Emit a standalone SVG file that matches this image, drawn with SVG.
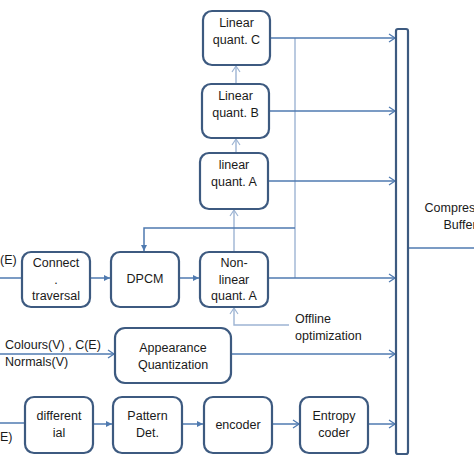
<svg xmlns="http://www.w3.org/2000/svg" width="474" height="474" viewBox="0 0 474 474">
<defs>
<marker id="ah" markerWidth="10" markerHeight="10" refX="7" refY="5" orient="auto" markerUnits="userSpaceOnUse">
<path d="M1,1 L7,5 L1,9" fill="none" stroke="#4f7ab0" stroke-width="1.3"/>
</marker>
<marker id="ahl" markerWidth="10" markerHeight="10" refX="7" refY="5" orient="auto" markerUnits="userSpaceOnUse">
<path d="M1,1 L7,5 L1,9" fill="none" stroke="#9db4d3" stroke-width="1.2"/>
</marker>
<marker id="tri" markerWidth="8" markerHeight="8" refX="6" refY="4" orient="auto" markerUnits="userSpaceOnUse">
<path d="M0,1 L6,4 L0,7 Z" fill="#4f7ab0"/>
</marker>
</defs>
<style>
.box{fill:#fff;stroke:#3d5a80;stroke-width:2.2}
.t{font-family:"Liberation Sans",Arial,sans-serif;font-size:12.5px;fill:#1a1a1a;text-anchor:middle}
.tl{font-family:"Liberation Sans",Arial,sans-serif;font-size:12.5px;fill:#1a1a1a}
.c{fill:none;stroke:#4f7ab0;stroke-width:1.5}
.cl{fill:none;stroke:#9db4d3;stroke-width:1.4}
</style>
<rect width="474" height="474" fill="#fff"/>
<g id="connectors">
<!-- quant chain -->
<line class="cl" x1="236" y1="84" x2="236" y2="66" marker-end="url(#ahl)"/>
<line class="cl" x1="236" y1="153" x2="236" y2="139" marker-end="url(#ahl)"/>
<line class="cl" x1="234" y1="252" x2="234" y2="210" marker-end="url(#ahl)"/>
<line class="cl" x1="295" y1="38" x2="295" y2="278"/>
<!-- to buffer -->
<line class="c" x1="270" y1="38" x2="395" y2="38" marker-end="url(#ah)"/>
<line class="c" x1="269" y1="111" x2="395" y2="111" marker-end="url(#ah)"/>
<line class="c" x1="268" y1="181" x2="395" y2="181" marker-end="url(#ah)"/>
<line class="c" x1="268" y1="278" x2="395" y2="278" marker-end="url(#ah)"/>
<line class="c" x1="231" y1="354" x2="395" y2="354" marker-end="url(#ah)"/>
<line class="c" x1="368" y1="424" x2="395" y2="424" marker-end="url(#ah)"/>
<!-- feedback -->
<polyline class="c" points="295,228 144,228 144,251" marker-end="url(#tri)"/>
<!-- main row -->
<line class="c" x1="0" y1="278" x2="22" y2="278"/>
<line class="c" x1="90" y1="278" x2="110" y2="278" marker-end="url(#tri)"/>
<line class="c" x1="179" y1="278" x2="199" y2="278" marker-end="url(#tri)"/>
<!-- appearance input -->
<line class="c" x1="0" y1="354" x2="114" y2="354" marker-end="url(#ah)"/>
<!-- bottom row -->
<line class="c" x1="0" y1="423" x2="25" y2="423"/>
<line class="c" x1="93" y1="424" x2="112" y2="424" marker-end="url(#tri)"/>
<line class="c" x1="182" y1="424" x2="203" y2="424" marker-end="url(#tri)"/>
<line class="c" x1="272" y1="424" x2="299" y2="424" marker-end="url(#ah)"/>
<!-- offline -->
<polyline class="cl" points="289,325 234,325 234,308" marker-end="url(#ahl)"/>
<!-- buffer out -->
<line class="c" x1="408" y1="248" x2="474" y2="248"/>
</g>
<g id="buffer"><rect class="box" x="396" y="29" width="12" height="425" rx="2"/></g>
<g id="lqC"><rect class="box" x="203" y="11" width="67" height="54" rx="9"/><text class="t" x="236.5" y="27">Linear</text><text class="t" x="236.5" y="44">quant. C</text></g>
<g id="lqB"><rect class="box" x="202" y="84" width="67" height="54" rx="9"/><text class="t" x="235.5" y="100">Linear</text><text class="t" x="235.5" y="117">quant. B</text></g>
<g id="lqA"><rect class="box" x="200" y="153" width="68" height="56" rx="9"/><text class="t" x="234" y="169">linear</text><text class="t" x="234" y="186">quant. A</text></g>
<g id="nlqA"><rect class="box" x="200" y="252" width="68" height="55" rx="9"/><text class="t" x="234" y="267">Non-</text><text class="t" x="234" y="284">linear</text><text class="t" x="234" y="300">quant. A</text></g>
<g id="dpcm"><rect class="box" x="111" y="252" width="68" height="55" rx="9"/><text class="t" x="145" y="283">DPCM</text></g>
<g id="connect"><rect class="box" x="22" y="252" width="68" height="55" rx="9"/><text class="t" x="56" y="267">Connect</text><text class="t" x="56" y="284">.</text><text class="t" x="56" y="300">traversal</text></g>
<g id="appearance"><rect class="box" x="115" y="328" width="116" height="55" rx="10"/><text class="t" x="173" y="352">Appearance</text><text class="t" x="173" y="369">Quantization</text></g>
<g id="differential"><rect class="box" x="25" y="397" width="68" height="56" rx="9"/><text class="t" x="59" y="420">different</text><text class="t" x="59" y="437">ial</text></g>
<g id="pattern"><rect class="box" x="113" y="397" width="69" height="56" rx="9"/><text class="t" x="147.5" y="420">Pattern</text><text class="t" x="147.5" y="437">Det.</text></g>
<g id="encoder"><rect class="box" x="204" y="397" width="68" height="56" rx="9"/><text class="t" x="238" y="429">encoder</text></g>
<g id="entropy"><rect class="box" x="300" y="397" width="68" height="56" rx="9"/><text class="t" x="334" y="420">Entropy</text><text class="t" x="334" y="437">coder</text></g>
<g id="labels">
<text class="tl" x="0" y="264">(E)</text>
<text class="tl" x="0" y="441">E)</text>
<text class="tl" x="5" y="349">Colours(V) , C(E)</text>
<text class="tl" x="5" y="366">Normals(V)</text>
<text class="tl" x="295" y="323">Offline</text>
<text class="tl" x="295" y="340">optimization</text>
<text class="t" x="460" y="212">Compressed</text>
<text class="t" x="460" y="229">Buffer</text>
</g>
</svg>
